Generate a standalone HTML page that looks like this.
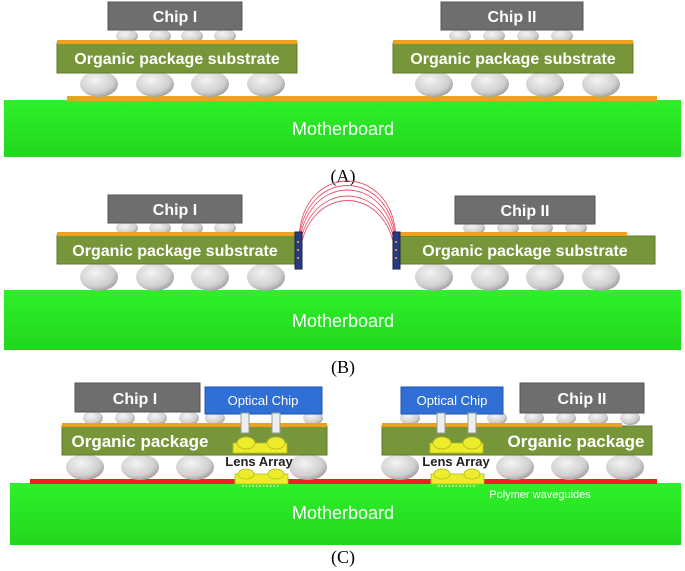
<!DOCTYPE html><html><head><style>body{margin:0;background:#fff}svg{display:block}</style></head><body>
<svg width="685" height="571" viewBox="0 0 685 571" font-family="Liberation Sans, sans-serif">
<defs>
<radialGradient id="b" cx="0.4" cy="0.35" r="0.7"><stop offset="0" stop-color="#f4f4f4"/><stop offset="0.7" stop-color="#cfcfcf"/><stop offset="1" stop-color="#9a9a9a"/></radialGradient>
<linearGradient id="g" x1="0" y1="0" x2="0" y2="1"><stop offset="0" stop-color="#2ef02a"/><stop offset="1" stop-color="#22d61e"/></linearGradient>
</defs>
<!-- Panel A -->
<g>
<rect x="4" y="100" width="677" height="57" fill="url(#g)"/>
<rect x="67" y="96" width="590" height="5" fill="#f0a020"/>
<g fill="url(#b)">
<ellipse cx="99" cy="84" rx="19" ry="13"/><ellipse cx="155" cy="84" rx="19" ry="13"/><ellipse cx="210" cy="84" rx="19" ry="13"/><ellipse cx="266" cy="84" rx="19" ry="13"/>
<ellipse cx="434" cy="84" rx="19" ry="13"/><ellipse cx="490" cy="84" rx="19" ry="13"/><ellipse cx="545" cy="84" rx="19" ry="13"/><ellipse cx="601" cy="84" rx="19" ry="13"/>
<ellipse cx="127" cy="36" rx="11" ry="7"/><ellipse cx="160" cy="36" rx="11" ry="7"/><ellipse cx="192" cy="36" rx="11" ry="7"/><ellipse cx="225" cy="36" rx="11" ry="7"/>
<ellipse cx="460" cy="36" rx="11" ry="7"/><ellipse cx="494" cy="36" rx="11" ry="7"/><ellipse cx="528" cy="36" rx="11" ry="7"/><ellipse cx="562" cy="36" rx="11" ry="7"/>
</g>
<rect x="57" y="43" width="240" height="30" fill="#77963a" stroke="#5f7a2c"/><rect x="57" y="40" width="240" height="4" fill="#f0a020"/>
<rect x="393" y="43" width="240" height="30" fill="#77963a" stroke="#5f7a2c"/><rect x="393" y="40" width="240" height="4" fill="#f0a020"/>
<rect x="108" y="2" width="134" height="28" fill="#6e6e6e" stroke="#555"/>
<rect x="441" y="2" width="142" height="28" fill="#6e6e6e" stroke="#555"/>
<g fill="#fff" font-weight="bold" font-size="16" text-anchor="middle">
<text x="175" y="22">Chip I</text><text x="512" y="22">Chip II</text>
<text x="177" y="64">Organic package substrate</text><text x="513" y="64">Organic package substrate</text>
<text x="343" y="135" font-weight="normal" font-size="18">Motherboard</text></g>
<text x="343" y="182" font-family="Liberation Serif, serif" font-size="18" text-anchor="middle">(A)</text>
</g>
<!-- Panel B -->
<g>
<rect x="4" y="290" width="677" height="60" fill="url(#g)"/>
<g fill="url(#b)">
<ellipse cx="99" cy="277" rx="19" ry="14"/><ellipse cx="155" cy="277" rx="19" ry="14"/><ellipse cx="210" cy="277" rx="19" ry="14"/><ellipse cx="266" cy="277" rx="19" ry="14"/>
<ellipse cx="434" cy="277" rx="19" ry="14"/><ellipse cx="490" cy="277" rx="19" ry="14"/><ellipse cx="545" cy="277" rx="19" ry="14"/><ellipse cx="601" cy="277" rx="19" ry="14"/>
<ellipse cx="127" cy="228" rx="11" ry="7"/><ellipse cx="160" cy="228" rx="11" ry="7"/><ellipse cx="192" cy="228" rx="11" ry="7"/><ellipse cx="225" cy="228" rx="11" ry="7"/>
<ellipse cx="474" cy="228" rx="11" ry="7"/><ellipse cx="508" cy="228" rx="11" ry="7"/><ellipse cx="542" cy="228" rx="11" ry="7"/><ellipse cx="576" cy="228" rx="11" ry="7"/>
</g>
<rect x="57" y="235" width="238" height="29" fill="#77963a" stroke="#5f7a2c"/><rect x="57" y="232" width="238" height="4" fill="#f0a020"/>
<rect x="397" y="236" width="258" height="28" fill="#77963a" stroke="#5f7a2c"/><rect x="397" y="232" width="230" height="4" fill="#f0a020"/>
<rect x="108" y="195" width="134" height="28" fill="#6e6e6e" stroke="#555"/>
<rect x="455" y="196" width="140" height="28" fill="#6e6e6e" stroke="#555"/>
<g fill="none" stroke="#e8506a" stroke-width="0.9">
<path d="M299 262 C302 180 393 180 396 262"/><path d="M299 256 C302 176 393 176 396 256"/><path d="M299 250 C302 170 393 170 396 250"/><path d="M299 244 C302 166 393 166 396 244"/><path d="M299 238 C302 162 393 162 396 238"/></g>
<rect x="295" y="232" width="7" height="37" fill="#283a8a" stroke="#223"/><rect x="393" y="232" width="7" height="37" fill="#283a8a" stroke="#223"/>
<g fill="#e8c020"><circle cx="298" cy="242" r="1"/><circle cx="298" cy="250" r="1"/><circle cx="298" cy="258" r="1"/><circle cx="396" cy="242" r="1"/><circle cx="396" cy="250" r="1"/><circle cx="396" cy="258" r="1"/></g>
<g fill="#fff" font-weight="bold" font-size="16" text-anchor="middle">
<text x="175" y="215">Chip I</text><text x="525" y="216">Chip II</text>
<text x="175" y="256">Organic package substrate</text><text x="525" y="256">Organic package substrate</text>
<text x="343" y="327" font-weight="normal" font-size="18">Motherboard</text></g>
<text x="343" y="373" font-family="Liberation Serif, serif" font-size="18" text-anchor="middle">(B)</text>
</g>
<!-- Panel C -->
<g>
<rect x="10" y="483" width="671" height="62" fill="url(#g)"/>
<rect x="30" y="479" width="627" height="5" fill="#ee2020"/>
<g fill="url(#b)">
<ellipse cx="85" cy="467" rx="19" ry="13"/><ellipse cx="140" cy="467" rx="19" ry="13"/><ellipse cx="195" cy="467" rx="19" ry="13"/><ellipse cx="308" cy="467" rx="19" ry="13"/>
<ellipse cx="400" cy="467" rx="19" ry="13"/><ellipse cx="515" cy="467" rx="19" ry="13"/><ellipse cx="570" cy="467" rx="19" ry="13"/><ellipse cx="625" cy="467" rx="19" ry="13"/>
<ellipse cx="93" cy="418" rx="10" ry="7"/><ellipse cx="125" cy="418" rx="10" ry="7"/><ellipse cx="157" cy="418" rx="10" ry="7"/><ellipse cx="189" cy="418" rx="10" ry="7"/>
<ellipse cx="215" cy="418" rx="10" ry="7"/><ellipse cx="313" cy="418" rx="10" ry="7"/>
<ellipse cx="410" cy="418" rx="10" ry="7"/><ellipse cx="497" cy="418" rx="10" ry="7"/>
<ellipse cx="534" cy="418" rx="10" ry="7"/><ellipse cx="566" cy="418" rx="10" ry="7"/><ellipse cx="598" cy="418" rx="10" ry="7"/><ellipse cx="630" cy="418" rx="10" ry="7"/>
</g>
<rect x="62" y="426" width="265" height="29" fill="#77963a" stroke="#5f7a2c"/><rect x="62" y="423" width="265" height="4" fill="#f0a020"/>
<rect x="382" y="426" width="270" height="29" fill="#77963a" stroke="#5f7a2c"/><rect x="382" y="423" width="240" height="4" fill="#f0a020"/>
<rect x="75" y="383" width="125" height="29" fill="#6e6e6e" stroke="#555"/>
<rect x="520" y="383" width="124" height="30" fill="#6e6e6e" stroke="#555"/>
<rect x="205" y="387" width="117" height="27" fill="#2f6fd6" stroke="#1f55b0"/>
<rect x="401" y="387" width="102" height="27" fill="#2f6fd6" stroke="#1f55b0"/>
<g fill="#eee" stroke="#999"><rect x="241" y="413" width="8" height="20"/><rect x="272" y="413" width="8" height="20"/><rect x="437" y="413" width="8" height="20"/><rect x="468" y="413" width="8" height="20"/></g>
<g fill="#ecec2a" stroke="#b8b820" stroke-width="0.8">
<rect x="233" y="443" width="54" height="10"/><ellipse cx="246" cy="443" rx="9" ry="6"/><ellipse cx="276" cy="443" rx="9" ry="6"/>
<rect x="235" y="474" width="53" height="10"/><ellipse cx="246" cy="474" rx="8" ry="5"/><ellipse cx="276" cy="474" rx="8" ry="5"/>
<rect x="430" y="443" width="53" height="10"/><ellipse cx="442" cy="443" rx="9" ry="6"/><ellipse cx="472" cy="443" rx="9" ry="6"/>
<rect x="431" y="474" width="53" height="10"/><ellipse cx="442" cy="474" rx="8" ry="5"/><ellipse cx="472" cy="474" rx="8" ry="5"/>
</g>
<g stroke="#fff" stroke-width="1.2" stroke-dasharray="1.5 2"><line x1="242" y1="486" x2="280" y2="486"/><line x1="438" y1="486" x2="476" y2="486"/></g>
<g fill="#222" font-weight="bold" font-size="13" text-anchor="middle"><text x="259" y="466">Lens Array</text><text x="456" y="466">Lens Array</text></g>
<g fill="#fff" font-weight="bold" text-anchor="middle">
<text x="135" y="404" font-size="16">Chip I</text><text x="582" y="404" font-size="16">Chip II</text>
<text x="263" y="405" font-size="13" font-weight="normal">Optical Chip</text><text x="452" y="405" font-size="13" font-weight="normal">Optical Chip</text>
<text x="140" y="447" font-size="17">Organic package</text><text x="576" y="447" font-size="17">Organic package</text>
<text x="343" y="519" font-weight="normal" font-size="18">Motherboard</text>
<text x="540" y="498" font-weight="normal" font-size="11">Polymer waveguides</text></g>
<text x="343" y="563" font-family="Liberation Serif, serif" font-size="18" text-anchor="middle">(C)</text>
</g>
</svg></body></html>
